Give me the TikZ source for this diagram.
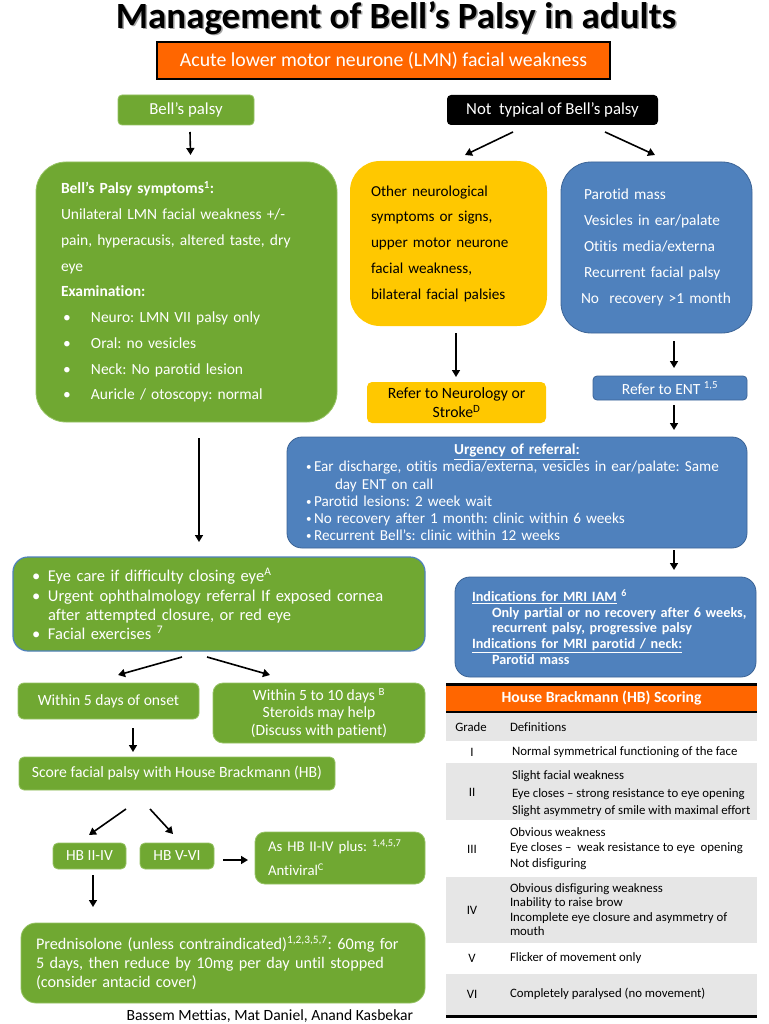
\documentclass[tikz,border=0pt]{standalone}
\usepackage{fontspec}
\setmainfont{Carlito}[Ligatures=NoCommon]
\usetikzlibrary{arrows.meta}
\definecolor{bpgreen}{RGB}{112,168,50}
\definecolor{bpgreenline}{RGB}{150,195,100}
\definecolor{bpblue}{RGB}{79,129,189}
\definecolor{bpblueline}{RGB}{60,100,150}
\definecolor{bpyellow}{RGB}{255,200,0}
\definecolor{bporange}{RGB}{255,102,0}
\definecolor{bpgray}{RGB}{230,230,230}
\newcommand\bpbul{\makebox[30pt][l]{\hspace{2pt}•}}
\newcommand\bpbulb{\makebox[16pt][l]{•}}
\newcommand\bpbulc{\makebox[8pt][l]{\raisebox{1pt}{\fontsize{11}{11}\selectfont •}}}
\tikzset{
  base/.style={inner sep=0pt, outer sep=0pt},
  gbox/.style={base, fill=bpgreen, draw=bpgreenline, line width=0.8pt, text=white},
  bbox/.style={base, fill=bpblue, draw=bpblueline, line width=0.8pt, text=white},
  ybox/.style={base, fill=bpyellow, text=black},
  arr/.style={line width=1.6pt, -{Stealth[length=7pt,width=8pt,inset=0pt]}},
  tabtxt/.style={base, anchor=west, align=left, font=\fontsize{12.8}{14.5}\selectfont},
  tabgrade/.style={base, font=\fontsize{12.8}{14.5}\selectfont},
}
\begin{document}
\frenchspacing
\begin{tikzpicture}[x=1pt,y=-1pt]
\useasboundingbox (0,0) rectangle (768,1024);
\fill[white] (0,0) rectangle (768,1024);

% title
\node[base, text=black!35] (titleshadow) at (397.5,19.5) {\fontsize{37}{37}\selectfont\bfseries Management of Bell’s Palsy in adults};
\node[base] (title) at (396,18) {\fontsize{37}{37}\selectfont\bfseries Management of Bell’s Palsy in adults};

% top box
\node[base, fill=bporange, draw=black, line width=2pt, text=white, minimum width=453pt, minimum height=37pt,
  font=\fontsize{19.8}{20}\selectfont] (lmn) at (383.5,60.5) {Acute lower motor neurone (LMN) facial weakness};

\node[gbox, rounded corners=4pt, minimum width=136pt, minimum height=30pt, font=\fontsize{16.8}{17}\selectfont] (bp) at (186,110) {Bell’s palsy};
\node[base, fill=black, rounded corners=4pt, text=white, minimum width=211pt, minimum height=30pt, font=\fontsize{16.8}{17}\selectfont] (nt) at (552.5,110) {Not\ \ typical of Bell’s palsy};

% symptoms
\node[gbox, rounded corners=30pt, minimum width=301pt, minimum height=260pt, text width=251pt, align=left,
  font=\fontsize{15.5}{25.75}\selectfont] (sym) at (186.5,292) {%
\textbf{Bell’s Palsy symptoms\textsuperscript{1}:}\\
Unilateral LMN facial weakness +/-\\
pain, hyperacusis, altered taste, dry\\
eye\\
\textbf{Examination:}\\
\bpbul Neuro: LMN VII palsy only\\
\bpbul Oral: no vesicles\\
\bpbul Neck: No parotid lesion\\
\bpbul Auricle / otoscopy: normal};

% yellow
\node[ybox, rounded corners=30pt, minimum width=197pt, minimum height=165pt, text width=155pt, align=left,
  font=\fontsize{15.2}{25.75}\selectfont] (yl) at (448.5,243.5) {%
Other neurological\\
symptoms or signs,\\
upper motor neurone\\
facial weakness,\\
bilateral facial palsies};

% blue
\node[bbox, rounded corners=30pt, minimum width=191pt, minimum height=171pt, text width=151pt, align=left,
  font=\fontsize{15.4}{26}\selectfont] (bl) at (656.5,247.5) {%
\hspace{3pt}Parotid mass\\
\hspace{3pt}Vesicles in ear/palate\\
\hspace{3pt}Otitis media/externa\\
\hspace{3pt}Recurrent facial palsy\\
\mbox{No\ \ recovery >1 month}};

\node[ybox, rounded corners=5pt, minimum width=179pt, minimum height=41pt, align=center,
  font=\fontsize{15.7}{19}\selectfont] (nr) at (456.5,402.5) {Refer to Neurology or\\ Stroke\textsuperscript{D}};
\node[bbox, rounded corners=4pt, minimum width=154pt, minimum height=24pt,
  font=\fontsize{15.5}{16}\selectfont] (ent) at (670,388) {Refer to ENT \textsuperscript{1,5}};

% urgency
\node[bbox, rounded corners=15pt, minimum width=460pt, minimum height=111pt, text width=422pt, align=left,
  font=\fontsize{15.2}{17.2}\selectfont] (urg) at (517,492.5) {%
\makebox[422pt][c]{\textbf{\underline{Urgency of referral:}}}\\
\mbox{\bpbulc Ear discharge, otitis media/externa, vesicles in ear/palate: Same}\\
\hspace{29pt}day ENT on call\\
\bpbulc Parotid lesions: 2 week wait\\
\bpbulc No recovery after 1 month: clinic within 6 weeks\\
\bpbulc Recurrent Bell’s: clinic within 12 weeks};

% MRI
\node[bbox, rounded corners=15pt, minimum width=301pt, minimum height=100pt, text width=267pt, align=left,
  font=\fontsize{14.2}{15.8}\selectfont\bfseries] (mri) at (605.5,627) {%
\underline{Indications for MRI IAM} \textsuperscript{6}\\
\hspace{20pt}\mbox{Only partial or no recovery after 6 weeks,}\\
\hspace{20pt}recurrent palsy, progressive palsy\\
\underline{Indications for MRI parotid / neck:}\\
\hspace{20pt}Parotid mass};

% eye
\node[base, fill=bpgreen, draw=bpblue, line width=1.2pt, text=white, rounded corners=15pt, minimum width=412pt, minimum height=94pt,
  text width=374pt, align=left, font=\fontsize{16.5}{19.3}\selectfont] (eye) at (219,604) {%
\bpbulb Eye care if difficulty closing eye\textsuperscript{A}\\
\bpbulb Urgent ophthalmology referral If exposed cornea\\
\hspace{16pt}after attempted closure, or red eye\\
\bpbulb Facial exercises \textsuperscript{7}};

\node[gbox, rounded corners=6pt, minimum width=181pt, minimum height=36pt, font=\fontsize{15.6}{17}\selectfont] (w5) at (108.5,701) {Within 5 days of onset};
\node[gbox, rounded corners=10pt, minimum width=212pt, minimum height=60pt, align=center,
  font=\fontsize{15.6}{17.5}\selectfont] (w510) at (319,713) {Within 5 to 10 days \textsuperscript{B}\\ Steroids may help\\ (Discuss with patient)};
\node[gbox, rounded corners=5pt, minimum width=316pt, minimum height=33pt, font=\fontsize{15.7}{17}\selectfont] (score) at (177,773.5) {Score facial palsy with House Brackmann (HB)};
\node[gbox, rounded corners=5pt, minimum width=73pt, minimum height=26pt, font=\fontsize{15.5}{17}\selectfont] (hb24) at (89.5,856) {HB II-IV};
\node[gbox, rounded corners=5pt, minimum width=74pt, minimum height=26pt, font=\fontsize{15.5}{17}\selectfont] (hb56) at (177,856) {HB V-VI};
\node[gbox, rounded corners=10pt, minimum width=170pt, minimum height=52pt, text width=144pt, align=left,
  font=\fontsize{14.8}{24}\selectfont] (ashb) at (340,858) {As HB II-IV plus: \textsuperscript{1,4,5,7}\\ Antiviral\textsuperscript{C}};
\node[gbox, rounded corners=15pt, minimum width=404pt, minimum height=80pt, text width=374pt, align=left,
  font=\fontsize{16.2}{19}\selectfont] (pred) at (223,963) {%
\mbox{Prednisolone (unless contraindicated)\textsuperscript{1,2,3,5,7}: 60mg for}\\
\mbox{5 days, then reduce by 10mg per day until stopped}\\
(consider antacid cover)};
\node[base, anchor=base east, font=\fontsize{15.6}{16}\selectfont] (cred) at (413,1020) {Bassem Mettias, Mat Daniel, Anand Kasbekar};

% connectors
\draw[arr] ([shift={(4,7)}]bp.south) -- ([shift={(4,-7)}]sym.north);
\draw[arr] ([shift={(66,7)}]nt.south west) -- ([shift={(115,-6)}]yl.north west);
\draw[arr] ([shift={(158,7)}]nt.south west) -- ([shift={(94,-7)}]bl.north west);
\draw[arr] ([shift={(7.5,7)}]yl.south) -- ([shift={(-0.5,-5)}]nr.north);
\draw[arr] ([shift={(17.5,8)}]bl.south) -- ([shift={(4,-8)}]ent.north);
\draw[arr] ([shift={(4,5)}]ent.south) -- ([shift={(157,-7)}]urg.north);
\draw[arr] ([shift={(12.5,16)}]sym.south) -- ([shift={(-20,-15)}]eye.north);
\draw[arr] ([shift={(157,2)}]urg.south) -- ([shift={(68.5,-7)}]mri.north);
\draw[arr] ([shift={(-37,6)}]eye.south) -- ([shift={(9.5,-8)}]w5.north);
\draw[arr] ([shift={(-12,6)}]eye.south) -- ([shift={(-49,-8)}]w510.north);
\draw[arr] ([shift={(24.5,9)}]w5.south) -- ([shift={(-44,-5)}]score.north);
\draw[arr] ([shift={(-51,19)}]score.south) -- ([shift={(-0.5,-8)}]hb24.north);
\draw[arr] ([shift={(-27,19)}]score.south) -- ([shift={(-4,-9)}]hb56.north);
\draw[arr] ([shift={(9,4)}]hb56.east) -- ([shift={(-7,2)}]ashb.west);
\draw[arr] ([shift={(3.5,6)}]hb24.south) -- ([shift={(-130,-16)}]pred.north);

% table
\fill[bporange] (446,686) rectangle (757,711);
\fill[bpgray] (446,713) rectangle (757,741);
\fill[bpgray] (446,763) rectangle (757,820);
\fill[bpgray] (446,877) rectangle (757,943);
\fill[bpgray] (446,974) rectangle (757,1015);
\draw[line width=3pt] (446,684.5) -- (757,684.5);
\draw[line width=2.5pt] (446,712) -- (757,712);
\draw[line width=3pt] (446,1016.5) -- (757,1016.5);
\node[base, text=white, font=\fontsize{15.6}{16}\selectfont\bfseries] (hbhead) at (601.5,698) {House Brackmann (HB) Scoring};
\node[tabgrade] (gh) at (471,727) {Grade};
\node[tabtxt] (dh) at (510,727) {Definitions};
\node[tabgrade] (g1) at (472,752) {I};
\node[tabtxt] (d1) at (512,752) {Normal symmetrical functioning of the face};
\node[tabgrade] (g2) at (472,792) {II};
\node[tabtxt, font=\fontsize{12.8}{17.5}\selectfont] (d2) at (512,794) {Slight facial weakness\\ Eye closes – strong resistance to eye opening\\ Slight asymmetry of smile with maximal effort};
\node[tabgrade] (g3) at (472,849) {III};
\node[tabtxt, font=\fontsize{12.8}{15.5}\selectfont] (d3) at (510,848.5) {Obvious weakness\\ Eye closes –\ \ weak resistance to eye\ \ opening\\ Not disfiguring};
\node[tabgrade] (g4) at (472,910) {IV};
\node[tabtxt, font=\fontsize{12.8}{14.3}\selectfont] (d4) at (510,909.5) {Obvious disfiguring weakness\\ Inability to raise brow\\ Incomplete eye closure and asymmetry of\\ mouth};
\node[tabgrade] (g5) at (472,958) {V};
\node[tabtxt] (d5) at (510,958) {Flicker of movement only};
\node[tabgrade] (g6) at (472,994) {VI};
\node[tabtxt] (d6) at (510,994) {Completely paralysed (no movement)};
\end{tikzpicture}
\end{document}
